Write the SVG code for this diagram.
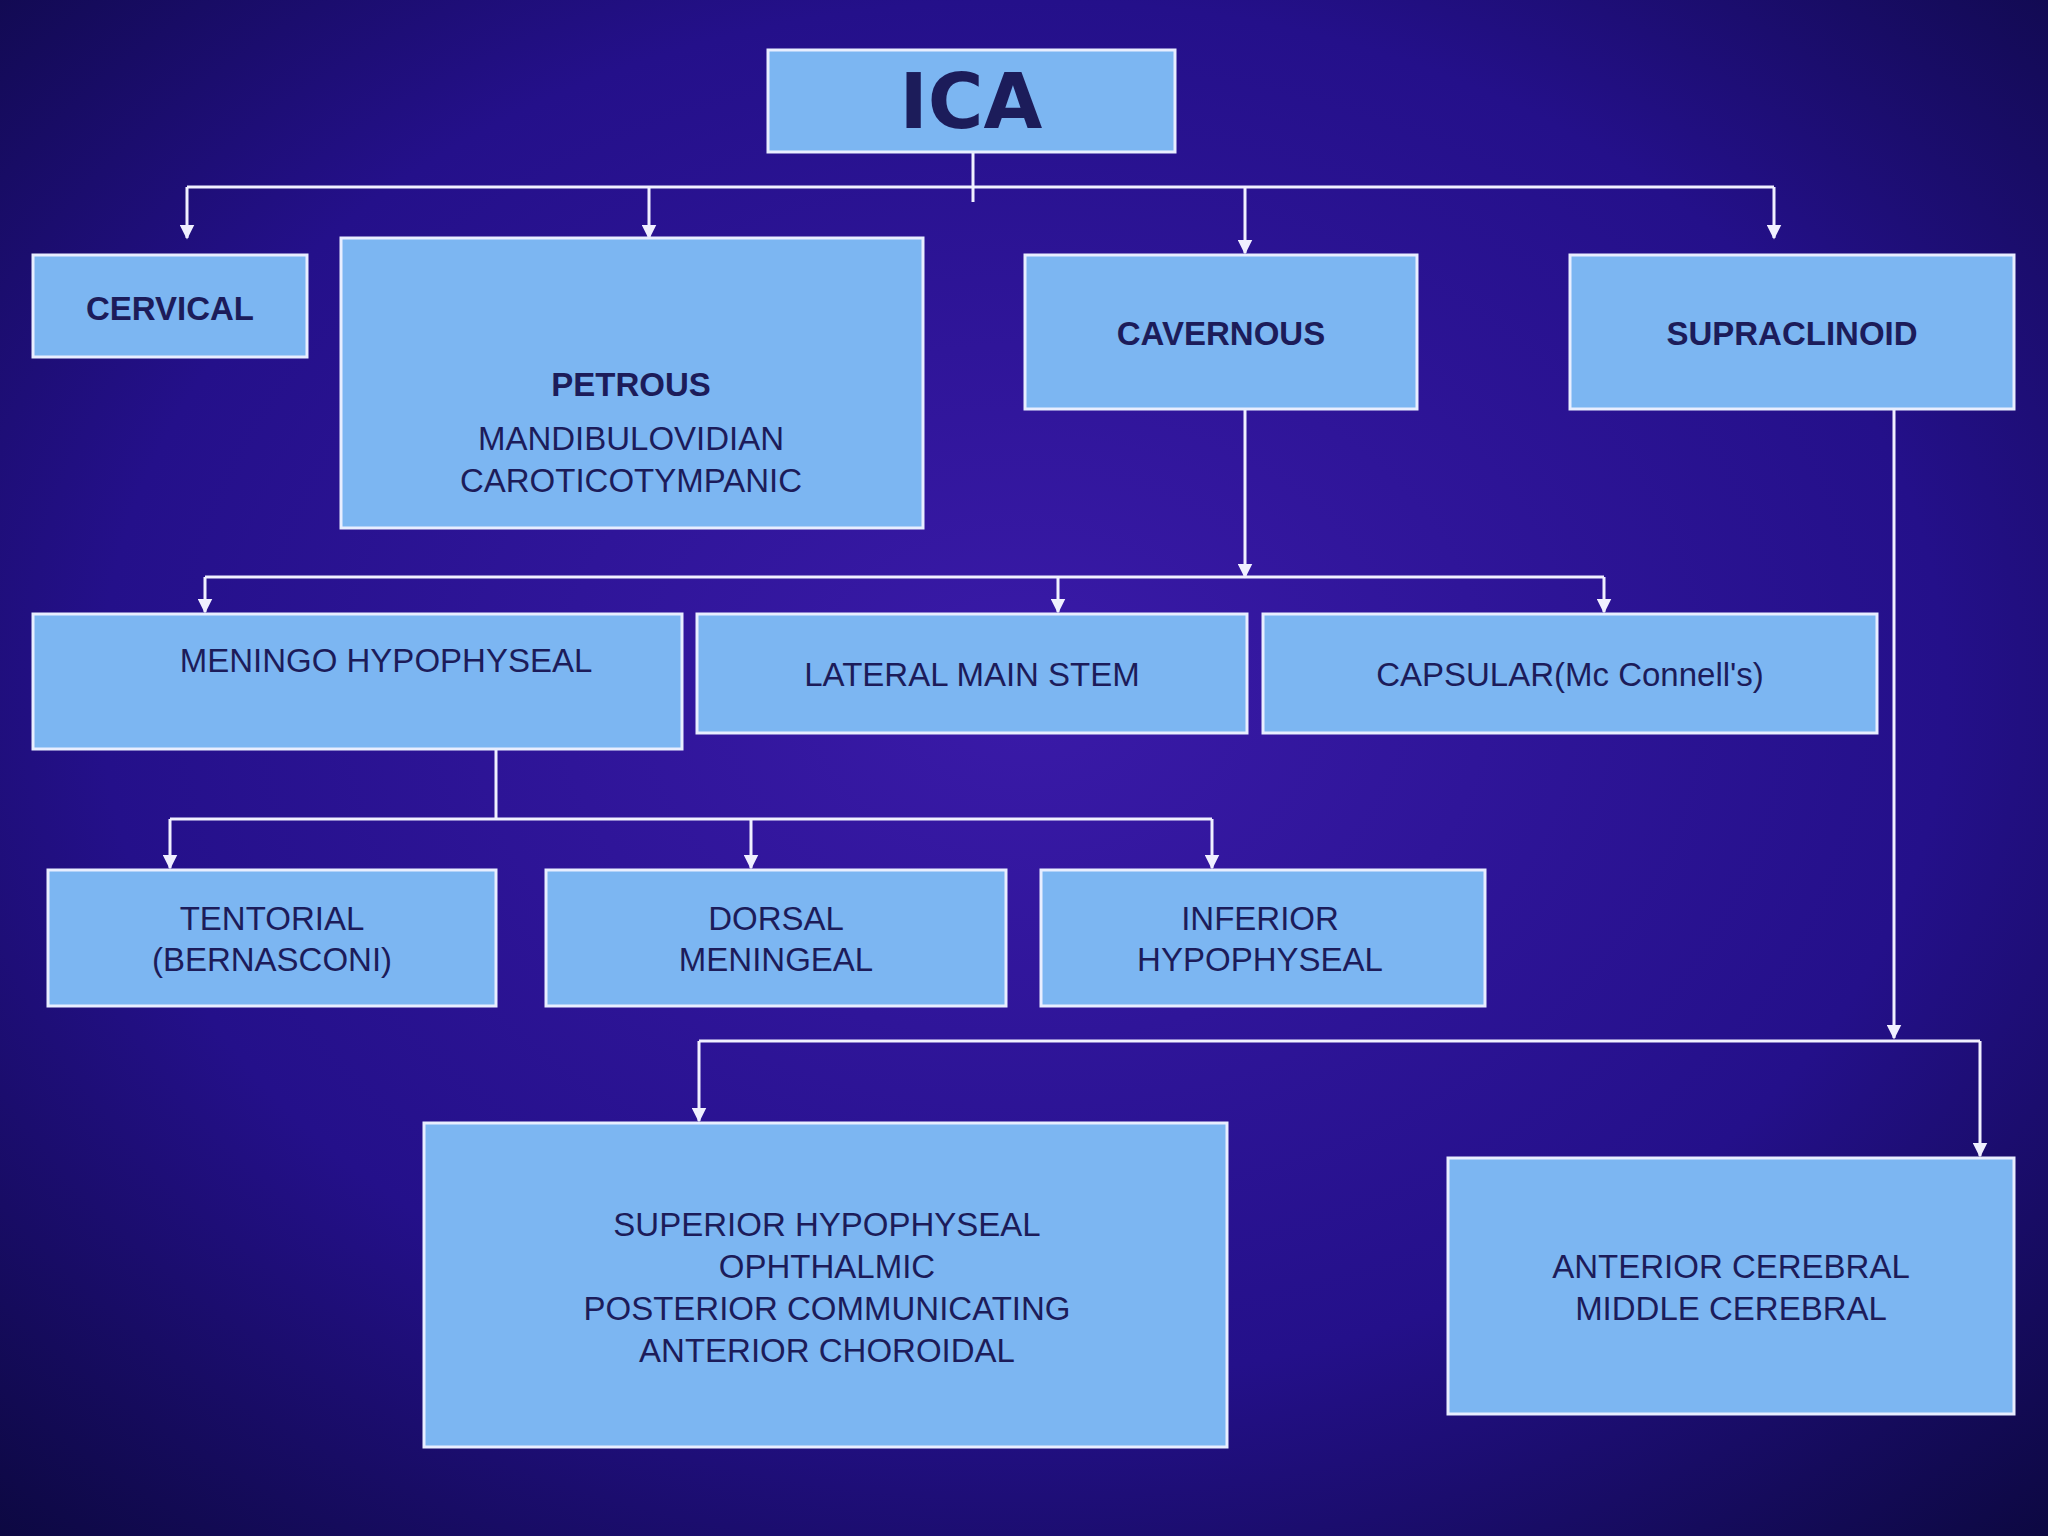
<svg xmlns="http://www.w3.org/2000/svg" width="2048" height="1536" viewBox="0 0 2048 1536">
<defs>
<radialGradient id="bg" cx="0.5" cy="0.45" r="0.75">
<stop offset="0" stop-color="#3a1aa8"/><stop offset="0.6" stop-color="#24108a"/><stop offset="1" stop-color="#0c0840"/>
</radialGradient>
<marker id="ah" viewBox="0 0 10 10" refX="9" refY="5" markerWidth="5" markerHeight="5" orient="auto"><path d="M0,0 L10,5 L0,10 z" fill="#f0f0ff"/></marker>
</defs>
<style>
.b{fill:#7cb6f2;stroke:#e8eeff;stroke-width:3}
.t{font-family:"Liberation Sans",Arial,sans-serif;font-size:33px;fill:#1c1c5a;text-anchor:middle}
.h{font-weight:bold}
.c{fill:none;stroke:#f0f0ff;stroke-width:3}
.a{marker-end:url(#ah)}
</style>
<rect width="2048" height="1536" fill="url(#bg)"/>
<g id="connectors">
<path class="c" d="M973,152 V202 M187,187 H1774"/>
<path class="c a" d="M187,187 V238"/><path class="c a" d="M649,187 V238"/><path class="c a" d="M1245,187 V253"/><path class="c a" d="M1774,187 V238"/>
<path class="c a" d="M1245,409 V577"/>
<path class="c" d="M205,577 H1604"/>
<path class="c a" d="M205,577 V612"/><path class="c a" d="M1058,577 V612"/><path class="c a" d="M1604,577 V612"/>
<path class="c" d="M496,749 V819 M170,819 H1212"/>
<path class="c a" d="M170,819 V868"/><path class="c a" d="M751,819 V868"/><path class="c a" d="M1212,819 V868"/>
<path class="c a" d="M1894,409 V1038"/>
<path class="c" d="M699,1041 H1980"/>
<path class="c a" d="M699,1041 V1121"/><path class="c a" d="M1980,1041 V1156"/>
</g>
<g id="ica"><rect class="b" x="768" y="50" width="407" height="102"/><text class="t h" x="971" y="128" style="font-family:'Comic Sans MS','DejaVu Sans',sans-serif;font-size:76px">ICA</text></g>
<g id="cervical"><rect class="b" x="33" y="255" width="274" height="102"/><text class="t h" x="170" y="320">CERVICAL</text></g>
<g id="petrous"><rect class="b" x="341" y="238" width="582" height="290"/><text class="t h" x="631" y="396">PETROUS</text><text class="t" x="631" y="450">MANDIBULOVIDIAN</text><text class="t" x="631" y="492">CAROTICOTYMPANIC</text></g>
<g id="cavernous"><rect class="b" x="1025" y="255" width="392" height="154"/><text class="t h" x="1221" y="345">CAVERNOUS</text></g>
<g id="supraclinoid"><rect class="b" x="1570" y="255" width="444" height="154"/><text class="t h" x="1792" y="345">SUPRACLINOID</text></g>
<g id="meningo"><rect class="b" x="33" y="614" width="649" height="135"/><text class="t" x="386" y="672">MENINGO HYPOPHYSEAL</text></g>
<g id="lateral"><rect class="b" x="697" y="614" width="550" height="119"/><text class="t" x="972" y="686">LATERAL MAIN STEM</text></g>
<g id="capsular"><rect class="b" x="1263" y="614" width="614" height="119"/><text class="t" x="1570" y="686">CAPSULAR(Mc Connell's)</text></g>
<g id="tentorial"><rect class="b" x="48" y="870" width="448" height="136"/><text class="t" x="272" y="930">TENTORIAL</text><text class="t" x="272" y="971">(BERNASCONI)</text></g>
<g id="dorsal"><rect class="b" x="546" y="870" width="460" height="136"/><text class="t" x="776" y="930">DORSAL</text><text class="t" x="776" y="971">MENINGEAL</text></g>
<g id="inferior"><rect class="b" x="1041" y="870" width="444" height="136"/><text class="t" x="1260" y="930">INFERIOR</text><text class="t" x="1260" y="971">HYPOPHYSEAL</text></g>
<g id="superior"><rect class="b" x="424" y="1123" width="803" height="324"/><text class="t" x="827" y="1236">SUPERIOR HYPOPHYSEAL</text><text class="t" x="827" y="1278">OPHTHALMIC</text><text class="t" x="827" y="1320">POSTERIOR COMMUNICATING</text><text class="t" x="827" y="1362">ANTERIOR CHOROIDAL</text></g>
<g id="anterior"><rect class="b" x="1448" y="1158" width="566" height="256"/><text class="t" x="1731" y="1278">ANTERIOR CEREBRAL</text><text class="t" x="1731" y="1320">MIDDLE CEREBRAL</text></g>
</svg>
